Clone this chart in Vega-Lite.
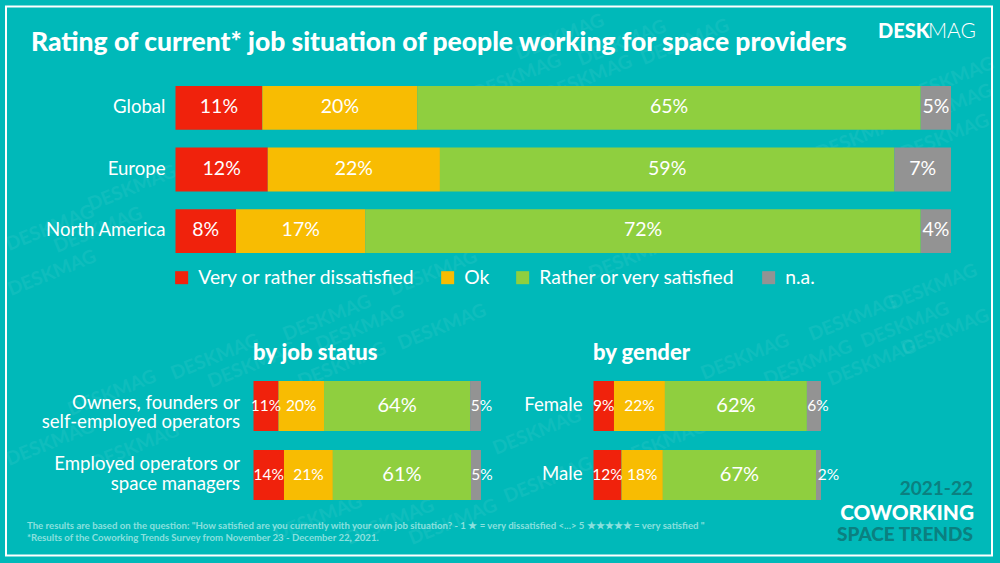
{
  "$schema": "https://vega.github.io/schema/vega-lite/v6.json",
  "background": "#00B9B9",
  "padding": 0,
  "autosize": "none",
  "width": 1000,
  "height": 563,
  "config": {
    "view": {"stroke": null},
    "font": "Lato",
    "axisQuantitative": {"disable": true},
    "style": {
      "wm": {"color": "#ffffff", "opacity": 0.06, "fontSize": 19, "fontWeight": "bold", "angle": -22, "align": "center", "baseline": "middle"},
      "note": {"color": "#8AE0DE", "fontSize": 9.65, "fontWeight": "bold", "align": "left", "baseline": "alphabetic"},
      "sub": {"color": "#ffffff", "fontSize": 22, "fontWeight": 900, "align": "left", "baseline": "alphabetic"}
    }
  },
  "title": {"text": "Rating of current* job situation of people working for space providers", "anchor": "start", "frame": "group", "dx": 31, "offset": -56, "color": "#ffffff", "fontSize": 26.45, "fontWeight": 900, "font": "Lato"},
  "datasets": {
    "top": [
      {"group": "Global", "rating": "Very or rather dissatisfied", "rank": 1, "share": 11.2, "label": "11%"},
      {"group": "Global", "rating": "Ok", "rank": 2, "share": 20, "label": "20%"},
      {"group": "Global", "rating": "Rather or very satisfied", "rank": 3, "share": 64.9, "label": "65%"},
      {"group": "Global", "rating": "n.a.", "rank": 4, "share": 3.9, "label": "5%"},
      {"group": "Europe", "rating": "Very or rather dissatisfied", "rank": 1, "share": 11.9, "label": "12%"},
      {"group": "Europe", "rating": "Ok", "rank": 2, "share": 22.2, "label": "22%"},
      {"group": "Europe", "rating": "Rather or very satisfied", "rank": 3, "share": 58.6, "label": "59%"},
      {"group": "Europe", "rating": "n.a.", "rank": 4, "share": 7.3, "label": "7%"},
      {"group": "North America", "rating": "Very or rather dissatisfied", "rank": 1, "share": 7.8, "label": "8%"},
      {"group": "North America", "rating": "Ok", "rank": 2, "share": 16.7, "label": "17%"},
      {"group": "North America", "rating": "Rather or very satisfied", "rank": 3, "share": 71.6, "label": "72%"},
      {"group": "North America", "rating": "n.a.", "rank": 4, "share": 3.9, "label": "4%"}
    ],
    "status": [
      {"group": "Owners, founders or|self-employed operators", "rating": "Very or rather dissatisfied", "rank": 1, "share": 11, "label": "11%"},
      {"group": "Owners, founders or|self-employed operators", "rating": "Ok", "rank": 2, "share": 20, "label": "20%"},
      {"group": "Owners, founders or|self-employed operators", "rating": "Rather or very satisfied", "rank": 3, "share": 64.2, "label": "64%"},
      {"group": "Owners, founders or|self-employed operators", "rating": "n.a.", "rank": 4, "share": 4.8, "label": "5%"},
      {"group": "Employed operators or|space managers", "rating": "Very or rather dissatisfied", "rank": 1, "share": 13.4, "label": "14%"},
      {"group": "Employed operators or|space managers", "rating": "Ok", "rank": 2, "share": 21.5, "label": "21%"},
      {"group": "Employed operators or|space managers", "rating": "Rather or very satisfied", "rank": 3, "share": 60.7, "label": "61%"},
      {"group": "Employed operators or|space managers", "rating": "n.a.", "rank": 4, "share": 4.4, "label": "5%"}
    ],
    "gender": [
      {"group": "Female", "rating": "Very or rather dissatisfied", "rank": 1, "share": 9, "label": "9%"},
      {"group": "Female", "rating": "Ok", "rank": 2, "share": 22.4, "label": "22%"},
      {"group": "Female", "rating": "Rather or very satisfied", "rank": 3, "share": 62.4, "label": "62%"},
      {"group": "Female", "rating": "n.a.", "rank": 4, "share": 6.2, "label": "6%"},
      {"group": "Male", "rating": "Very or rather dissatisfied", "rank": 1, "share": 12.3, "label": "12%"},
      {"group": "Male", "rating": "Ok", "rank": 2, "share": 18.2, "label": "18%"},
      {"group": "Male", "rating": "Rather or very satisfied", "rank": 3, "share": 67.3, "label": "67%"},
      {"group": "Male", "rating": "n.a.", "rank": 4, "share": 2.2, "label": "2%"}
    ]
  },
  "resolve": {"scale": {"x": "independent", "y": "independent"}},
  "layer": [
    {
      "data": {"values": [{"part": "backdrop"}]},
      "layer": [
        {"mark": {"type": "rect", "fill": null, "stroke": "#ffffff", "strokeWidth": 2}, "encoding": {"x": {"datum": 6, "scale": {"domain": [0, 1000], "range": [0, 1000], "nice": false}}, "x2": {"datum": 992}, "y": {"datum": 6.5, "scale": {"domain": [0, 563], "range": [0, 563], "nice": false}}, "y2": {"datum": 555.5}}},
        {"mark": {"type": "text", "fill": "#ffffff", "fontSize": 20, "fontWeight": 900, "align": "left", "baseline": "alphabetic"}, "encoding": {"x": {"datum": 878}, "y": {"datum": 38}, "text": {"value": "DESK"}}},
        {"mark": {"type": "text", "fill": "#ffffff", "fontSize": 21, "fontWeight": 300, "align": "left", "baseline": "alphabetic"}, "encoding": {"x": {"datum": 928}, "y": {"datum": 38}, "text": {"value": "MAG"}}},
        {"mark": {"type": "text", "fill": "#0B8080", "fontSize": 19, "fontWeight": "bold", "align": "right", "baseline": "alphabetic"}, "encoding": {"x": {"datum": 973}, "y": {"datum": 495}, "text": {"value": "2021-22"}}},
        {"mark": {"type": "text", "fill": "#ffffff", "fontSize": 20.8, "fontWeight": 900, "align": "right", "baseline": "alphabetic"}, "encoding": {"x": {"datum": 974}, "y": {"datum": 520}, "text": {"value": "COWORKING"}}},
        {"mark": {"type": "text", "fill": "#0B8080", "fontSize": 19, "fontWeight": 900, "align": "right", "baseline": "alphabetic"}, "encoding": {"x": {"datum": 973}, "y": {"datum": 541}, "text": {"value": "SPACE TRENDS"}}},
        {"mark": {"type": "text", "style": "sub"}, "encoding": {"x": {"datum": 253}, "y": {"datum": 360}, "text": {"value": "by job status"}}},
        {"mark": {"type": "text", "style": "sub"}, "encoding": {"x": {"datum": 593}, "y": {"datum": 360}, "text": {"value": "by gender"}}},
        {"mark": {"type": "text", "style": "note"}, "encoding": {"x": {"datum": 27}, "y": {"datum": 529}, "text": {"value": "The results are based on the question: \"How satisfied are you currently with your own job situation? - 1 ★ = very dissatisfied <...> 5 ★★★★★ = very satisfied \""}}},
        {"mark": {"type": "text", "style": "note"}, "encoding": {"x": {"datum": 27}, "y": {"datum": 541}, "text": {"value": "*Results of the Coworking Trends Survey from November 23 - December 22, 2021."}}},
        {"mark": {"type": "text", "style": "wm"}, "encoding": {"x": {"datum": 132}, "y": {"datum": 188}, "text": {"value": "DESKMAG"}}},
        {"mark": {"type": "text", "style": "wm"}, "encoding": {"x": {"datum": 50}, "y": {"datum": 228}, "text": {"value": "DESKMAG"}}},
        {"mark": {"type": "text", "style": "wm"}, "encoding": {"x": {"datum": 98}, "y": {"datum": 230}, "text": {"value": "DESKMAG"}}},
        {"mark": {"type": "text", "style": "wm"}, "encoding": {"x": {"datum": 52}, "y": {"datum": 273}, "text": {"value": "DESKMAG"}}},
        {"mark": {"type": "text", "style": "wm"}, "encoding": {"x": {"datum": 433}, "y": {"datum": 273}, "text": {"value": "DESKMAG"}}},
        {"mark": {"type": "text", "style": "wm"}, "encoding": {"x": {"datum": 327}, "y": {"datum": 318}, "text": {"value": "DESKMAG"}}},
        {"mark": {"type": "text", "style": "wm"}, "encoding": {"x": {"datum": 360}, "y": {"datum": 328}, "text": {"value": "DESKMAG"}}},
        {"mark": {"type": "text", "style": "wm"}, "encoding": {"x": {"datum": 442}, "y": {"datum": 327}, "text": {"value": "DESKMAG"}}},
        {"mark": {"type": "text", "style": "wm"}, "encoding": {"x": {"datum": 215}, "y": {"datum": 357}, "text": {"value": "DESKMAG"}}},
        {"mark": {"type": "text", "style": "wm"}, "encoding": {"x": {"datum": 252}, "y": {"datum": 365}, "text": {"value": "DESKMAG"}}},
        {"mark": {"type": "text", "style": "wm"}, "encoding": {"x": {"datum": 342}, "y": {"datum": 365}, "text": {"value": "DESKMAG"}}},
        {"mark": {"type": "text", "style": "wm"}, "encoding": {"x": {"datum": 112}, "y": {"datum": 393}, "text": {"value": "DESKMAG"}}},
        {"mark": {"type": "text", "style": "wm"}, "encoding": {"x": {"datum": 50}, "y": {"datum": 443}, "text": {"value": "DESKMAG"}}},
        {"mark": {"type": "text", "style": "wm"}, "encoding": {"x": {"datum": 135}, "y": {"datum": 447}, "text": {"value": "DESKMAG"}}},
        {"mark": {"type": "text", "style": "wm"}, "encoding": {"x": {"datum": 318}, "y": {"datum": 518}, "text": {"value": "DESKMAG"}}},
        {"mark": {"type": "text", "style": "wm"}, "encoding": {"x": {"datum": 390}, "y": {"datum": 522}, "text": {"value": "DESKMAG"}}},
        {"mark": {"type": "text", "style": "wm"}, "encoding": {"x": {"datum": 453}, "y": {"datum": 522}, "text": {"value": "DESKMAG"}}},
        {"mark": {"type": "text", "style": "wm"}, "encoding": {"x": {"datum": 853}, "y": {"datum": 318}, "text": {"value": "DESKMAG"}}},
        {"mark": {"type": "text", "style": "wm"}, "encoding": {"x": {"datum": 905}, "y": {"datum": 325}, "text": {"value": "DESKMAG"}}},
        {"mark": {"type": "text", "style": "wm"}, "encoding": {"x": {"datum": 945}, "y": {"datum": 332}, "text": {"value": "DESKMAG"}}},
        {"mark": {"type": "text", "style": "wm"}, "encoding": {"x": {"datum": 745}, "y": {"datum": 357}, "text": {"value": "DESKMAG"}}},
        {"mark": {"type": "text", "style": "wm"}, "encoding": {"x": {"datum": 808}, "y": {"datum": 363}, "text": {"value": "DESKMAG"}}},
        {"mark": {"type": "text", "style": "wm"}, "encoding": {"x": {"datum": 872}, "y": {"datum": 363}, "text": {"value": "DESKMAG"}}},
        {"mark": {"type": "text", "style": "wm"}, "encoding": {"x": {"datum": 537}, "y": {"datum": 432}, "text": {"value": "DESKMAG"}}},
        {"mark": {"type": "text", "style": "wm"}, "encoding": {"x": {"datum": 662}, "y": {"datum": 443}, "text": {"value": "DESKMAG"}}},
        {"mark": {"type": "text", "style": "wm"}, "encoding": {"x": {"datum": 548}, "y": {"datum": 480}, "text": {"value": "DESKMAG"}}},
        {"mark": {"type": "text", "style": "wm"}, "encoding": {"x": {"datum": 560}, "y": {"datum": 37}, "text": {"value": "DESKMAG"}}},
        {"mark": {"type": "text", "style": "wm"}, "encoding": {"x": {"datum": 622}, "y": {"datum": 43}, "text": {"value": "DESKMAG"}}},
        {"mark": {"type": "text", "style": "wm"}, "encoding": {"x": {"datum": 685}, "y": {"datum": 42}, "text": {"value": "DESKMAG"}}},
        {"mark": {"type": "text", "style": "wm"}, "encoding": {"x": {"datum": 517}, "y": {"datum": 77}, "text": {"value": "DESKMAG"}}},
        {"mark": {"type": "text", "style": "wm"}, "encoding": {"x": {"datum": 588}, "y": {"datum": 78}, "text": {"value": "DESKMAG"}}},
        {"mark": {"type": "text", "style": "wm"}, "encoding": {"x": {"datum": 950}, "y": {"datum": 80}, "text": {"value": "DESKMAG"}}},
        {"mark": {"type": "text", "style": "wm"}, "encoding": {"x": {"datum": 948}, "y": {"datum": 107}, "text": {"value": "DESKMAG"}}},
        {"mark": {"type": "text", "style": "wm"}, "encoding": {"x": {"datum": 945}, "y": {"datum": 137}, "text": {"value": "DESKMAG"}}},
        {"mark": {"type": "text", "style": "wm"}, "encoding": {"x": {"datum": 860}, "y": {"datum": 137}, "text": {"value": "DESKMAG"}}},
        {"mark": {"type": "text", "style": "wm"}, "encoding": {"x": {"datum": 933}, "y": {"datum": 287}, "text": {"value": "DESKMAG"}}},
        {"mark": {"type": "text", "style": "wm"}, "encoding": {"x": {"datum": 633}, "y": {"datum": 257}, "text": {"value": "DESKMAG"}}}
      ]
    },
    {
      "data": {"name": "top"},
      "encoding": {
        "y": {"field": "group", "type": "nominal", "sort": ["Global", "Europe", "North America"], "scale": {"range": [86, 253], "paddingInner": 0.29, "paddingOuter": 0}, "axis": {"orient": "left", "offset": -175.5, "title": null, "domain": false, "ticks": false, "labelPadding": 10.5, "labelColor": "#ffffff", "labelFontSize": 18.6, "labelFont": "Lato", "labelLimit": 0, "labelOffset": -1}},
        "x": {"field": "share", "type": "quantitative", "stack": "zero", "scale": {"domain": [0, 100], "nice": false, "range": [175.5, 951]}},
        "order": {"field": "rank"}
      },
      "layer": [
        {
          "mark": "bar",
          "encoding": {
            "color": {"field": "rating", "type": "nominal", "scale": {"domain": ["Very or rather dissatisfied", "Ok", "Rather or very satisfied", "n.a."], "range": ["#F0220C", "#F8BC02", "#8FCF3F", "#939393"]}, "legend": {"title": null, "orient": "none", "legendX": 172, "legendY": 268, "direction": "horizontal", "symbolType": "square", "symbolSize": 169, "symbolStrokeWidth": 0, "labelColor": "#ffffff", "labelFontSize": 19.3, "labelFont": "Lato", "labelOffset": 7, "labelLimit": 0, "columnPadding": 23, "padding": 0}}
          }
        },
        {
          "mark": {"type": "text", "fill": "#ffffff", "fontSize": 19.5, "font": "Lato", "dy": -1},
          "encoding": {
            "x": {"field": "share", "type": "quantitative", "stack": "zero", "bandPosition": 0.5},
            "detail": {"field": "rating"},
            "text": {"field": "label"}
          }
        }
      ]
    },
    {
      "data": {"name": "status"},
      "encoding": {
        "y": {"field": "group", "type": "nominal", "sort": null, "scale": {"range": [381, 500], "paddingInner": 0.275, "paddingOuter": 0}, "axis": {"orient": "left", "offset": -253.5, "title": null, "domain": false, "ticks": false, "labelPadding": 14, "labelColor": "#ffffff", "labelFontSize": 18.6, "labelFont": "Lato", "labelLimit": 0, "labelLineHeight": 19.5, "labelOffset": {"expr": "indexof(datum.value, 'Owners') == 0 ? -3.5 : -10.5"}, "labelExpr": "split(datum.label, '|')"}},
        "x": {"field": "share", "type": "quantitative", "stack": "zero", "scale": {"domain": [0, 100], "nice": false, "range": [253.5, 481]}},
        "order": {"field": "rank"}
      },
      "layer": [
        {
          "mark": "bar",
          "encoding": {"color": {"field": "rating", "type": "nominal"}}
        },
        {
          "mark": {"type": "text", "fill": "#ffffff", "font": "Lato", "fontSize": {"expr": "datum.rating == 'Rather or very satisfied' ? 20 : 15.5"}, "dx": {"expr": "datum.rating == 'n.a.' ? 6 : 0"}},
          "encoding": {
            "x": {"field": "share", "type": "quantitative", "stack": "zero", "bandPosition": 0.5},
            "detail": {"field": "rating"},
            "text": {"field": "label"}
          }
        }
      ]
    },
    {
      "data": {"name": "gender"},
      "encoding": {
        "y": {"field": "group", "type": "nominal", "sort": null, "scale": {"range": [381, 500], "paddingInner": 0.275, "paddingOuter": 0}, "axis": {"orient": "left", "offset": -593.5, "title": null, "domain": false, "ticks": false, "labelPadding": 11.5, "labelColor": "#ffffff", "labelFontSize": 18.6, "labelFont": "Lato", "labelLimit": 0, "labelOffset": -1}},
        "x": {"field": "share", "type": "quantitative", "stack": "zero", "scale": {"domain": [0, 100], "nice": false, "range": [593.5, 821]}},
        "order": {"field": "rank"}
      },
      "layer": [
        {
          "mark": "bar",
          "encoding": {"color": {"field": "rating", "type": "nominal"}}
        },
        {
          "mark": {"type": "text", "fill": "#ffffff", "font": "Lato", "fontSize": {"expr": "datum.rating == 'Rather or very satisfied' ? 20 : 15.5"}, "dx": {"expr": "datum.rating != 'n.a.' ? 0 : datum.group == 'Male' ? 10 : 4"}},
          "encoding": {
            "x": {"field": "share", "type": "quantitative", "stack": "zero", "bandPosition": 0.5},
            "detail": {"field": "rating"},
            "text": {"field": "label"}
          }
        }
      ]
    }
  ]
}
